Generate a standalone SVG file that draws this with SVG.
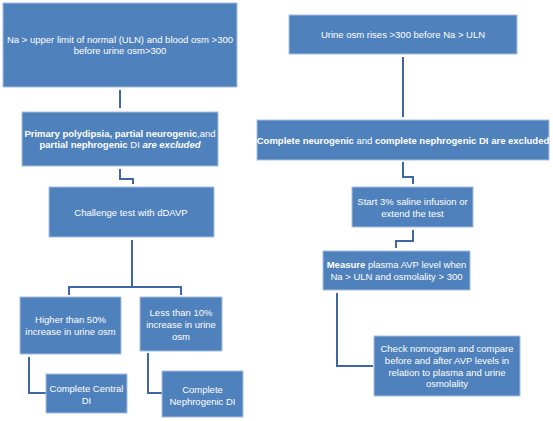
<svg xmlns="http://www.w3.org/2000/svg" width="553" height="421" viewBox="0 0 553 421">
<style>
.box{fill:#4F81BD;stroke:#A7BEDF;stroke-width:1}
.t{font-family:"Liberation Sans",Arial,sans-serif;font-size:9.5px;fill:#FFFFFF;text-anchor:middle}
.b{font-weight:bold}
.i{font-style:italic}
.c{fill:none;stroke:#3E67A6;stroke-width:2}
</style>
<rect width="553" height="421" fill="#FFFFFF"/>
<g id="connectors">
<path class="c" d="M120,90 V108"/>
<path class="c" d="M120,169 V179 H133 V184"/>
<path class="c" d="M132,240 V287 M69,295 V287 H181 V295"/>
<path class="c" d="M29,357 V393 H46"/>
<path class="c" d="M148,353 V393 H162"/>
<path class="c" d="M403,57 V117"/>
<path class="c" d="M403,162 V177 H413 V184"/>
<path class="c" d="M413,230 V241 H396 V248"/>
<path class="c" d="M337,293 V366 H373"/>
</g>
<g id="n1">
<rect class="box" x="3" y="3" width="234" height="84"/>
<text class="t" x="120" y="43">Na &gt; upper limit of normal (ULN) and blood osm &gt;300</text>
<text class="t" x="120" y="54">before urine osm&gt;300</text>
</g>
<g id="n2">
<rect class="box" x="22" y="112" width="196" height="54"/>
<text class="t" x="120" y="137"><tspan class="b">Primary polydipsia,  partial  neurogenic</tspan>,and</text>
<text class="t" x="120" y="148"><tspan class="b">partial nephrogenic</tspan> DI <tspan class="b i">are excluded</tspan></text>
</g>
<g id="n3">
<rect class="box" x="49" y="187" width="165" height="50"/>
<text class="t" x="131" y="215.5">Challenge test with dDAVP</text>
</g>
<g id="n4">
<rect class="box" x="20" y="297" width="101" height="57"/>
<text class="t" x="70.5" y="322.5">Higher than 50%</text>
<text class="t" x="70.5" y="335">increase in urine osm</text>
</g>
<g id="n5">
<rect class="box" x="140" y="297" width="82" height="54"/>
<text class="t" x="181" y="315.5">Less than 10%</text>
<text class="t" x="181" y="327.5">increase in urine</text>
<text class="t" x="181" y="339.5">osm</text>
</g>
<g id="n6">
<rect class="box" x="46" y="374" width="81" height="39"/>
<text class="t" x="86.5" y="391.5">Complete Central</text>
<text class="t" x="86.5" y="403.5">DI</text>
</g>
<g id="n7">
<rect class="box" x="162" y="371" width="81" height="46"/>
<text class="t" x="202.5" y="392.5">Complete</text>
<text class="t" x="202.5" y="404.5">Nephrogenic DI</text>
</g>
<g id="n8">
<rect class="box" x="289" y="15" width="228" height="39"/>
<text class="t" x="403" y="37.5">Urine osm rises &gt;300 before Na &gt; ULN</text>
</g>
<g id="n9">
<rect class="box" x="257" y="120" width="292" height="40"/>
<text class="t" x="403" y="143.5"><tspan class="b">Complete neurogenic</tspan> and <tspan class="b">complete nephrogenic DI are excluded</tspan></text>
</g>
<g id="n10">
<rect class="box" x="352" y="187" width="121" height="40"/>
<text class="t" x="412.5" y="204.5">Start 3% saline infusion or</text>
<text class="t" x="412.5" y="216.5">extend the test</text>
</g>
<g id="n11">
<rect class="box" x="323" y="251" width="147" height="39"/>
<text class="t" x="396.5" y="267.5"><tspan class="b">Measure</tspan> plasma AVP level when</text>
<text class="t" x="396.5" y="279.5">Na &gt; ULN and osmolality &gt; 300</text>
</g>
<g id="n12">
<rect class="box" x="374" y="336" width="146" height="60"/>
<text class="t" x="447" y="351.5">Check nomogram and compare</text>
<text class="t" x="447" y="363.5">before and after  AVP levels in</text>
<text class="t" x="447" y="375.5">relation to plasma and urine</text>
<text class="t" x="447" y="387">osmolality</text>
</g>
</svg>
